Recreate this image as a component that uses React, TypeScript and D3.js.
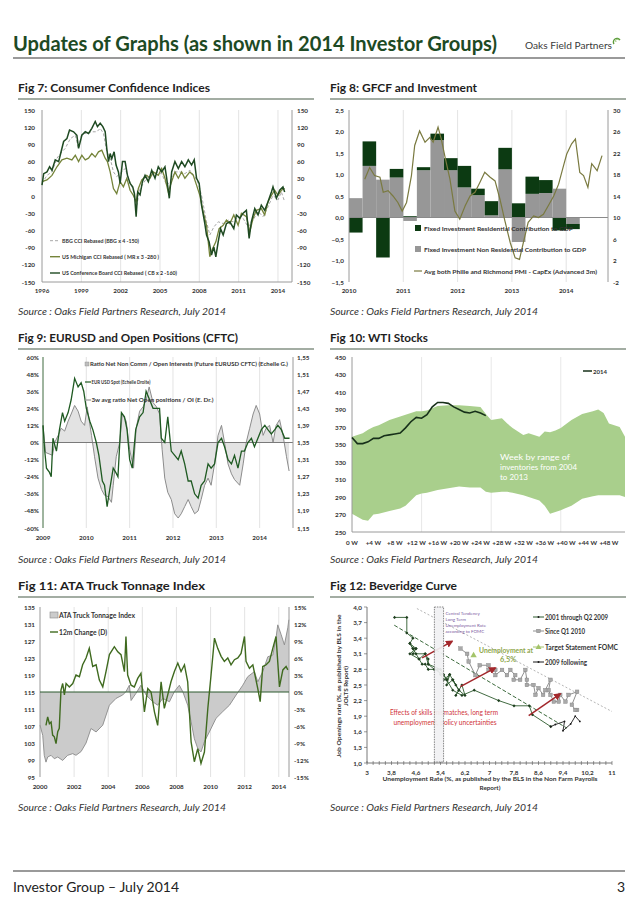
import React from "react";
import * as d3 from "d3";

const FONT = "Lato, 'Noto Sans', sans-serif";
const comma = (s: string) => s.replace(".", ",");

// ---------------- Fig 7 data ----------------
const fig7Years = [1996, 1999, 2002, 2005, 2008, 2011, 2014];
const fig7Ticks = [-150, -120, -90, -60, -30, 0, 30, 60, 90, 120, 150];
const fig7CB: [number, number][] = [
  [1996.0, 19], [1996.13, 39], [1996.38, 42], [1996.58, 51], [1996.76, 45], [1997.01, 63], [1997.27, 60], [1997.39, 71],
  [1997.65, 95], [1997.9, 100], [1998.1, 115], [1998.41, 112], [1998.66, 106], [1998.79, 83], [1999.04, 106], [1999.3, 112],
  [1999.55, 109], [1999.8, 118], [2000.06, 130], [2000.23, 121], [2000.44, 127], [2000.64, 121], [2000.82, 112], [2000.94, 83],
  [2001.07, 60], [2001.2, 74], [2001.32, 65], [2001.5, 77], [2001.65, 54], [2001.83, 42], [2001.96, 22], [2002.14, 60],
  [2002.34, 60], [2002.52, 36], [2002.72, 22], [2002.92, 16], [2003.05, 4], [2003.18, -36], [2003.3, 7], [2003.48, 2],
  [2003.66, 25], [2003.86, 36], [2004.11, 25], [2004.37, 45], [2004.62, 31], [2004.87, 51], [2005.13, 42], [2005.38, 51],
  [2005.51, 31], [2005.71, -4], [2005.89, 42], [2006.14, 60], [2006.4, 48], [2006.65, 60], [2006.9, 51], [2007.16, 63],
  [2007.41, 54], [2007.61, 63], [2007.79, 31], [2007.99, 22], [2008.17, -16], [2008.42, -48], [2008.55, -68], [2008.75, -80],
  [2008.93, -103], [2009.11, -89], [2009.26, -106], [2009.44, -80], [2009.62, -57], [2009.82, -68], [2010.07, -48], [2010.33, -45],
  [2010.63, -57], [2010.83, -33], [2011.09, -39], [2011.34, -30], [2011.59, -25], [2011.8, -74], [2011.97, -45], [2012.23, -22],
  [2012.48, -33], [2012.73, -16], [2012.99, -25], [2013.24, -10], [2013.5, 7], [2013.62, 16], [2013.88, -4], [2014.13, 10],
  [2014.38, 16], [2014.51, 7],
];
const fig7MR: [number, number][] = [
  [1996.0, 25], [1996.38, 28], [1996.76, 36], [1997.14, 51], [1997.52, 63], [1997.9, 66], [1998.28, 63], [1998.54, 71],
  [1998.79, 60], [1999.04, 71], [1999.3, 63], [1999.55, 66], [1999.8, 74], [2000.06, 68], [2000.31, 77], [2000.56, 80],
  [2000.82, 66], [2000.99, 60], [2001.2, 42], [2001.45, 13], [2001.7, 4], [2001.96, 25], [2002.21, 16], [2002.47, 31],
  [2002.72, 10], [2002.97, 1], [2003.18, -10], [2003.35, 13], [2003.61, 28], [2003.99, 36], [2004.24, 31], [2004.49, 42],
  [2004.87, 36], [2005.13, 48], [2005.38, 31], [2005.63, 7], [2005.89, 25], [2006.14, 42], [2006.4, 31], [2006.65, 42],
  [2006.9, 31], [2007.28, 42], [2007.54, 36], [2007.79, 19], [2008.04, 1], [2008.3, -28], [2008.55, -51], [2008.8, -106],
  [2009.01, -92], [2009.26, -80], [2009.51, -57], [2009.82, -51], [2010.07, -42], [2010.33, -48], [2010.63, -33], [2010.96, -51],
  [2011.21, -30], [2011.59, -36], [2011.85, -62], [2012.1, -39], [2012.35, -25], [2012.73, -22], [2012.99, -33], [2013.24, -10],
  [2013.5, 1], [2013.75, 10], [2014.0, 1], [2014.26, 10], [2014.51, 13],
];
const fig7BBG: [number, number][] = [
  [1996.0, 22], [1996.38, 36], [1996.76, 42], [1997.14, 66], [1997.52, 77], [1997.77, 83], [1998.16, 100], [1998.54, 106],
  [1998.79, 83], [1999.04, 109], [1999.42, 109], [1999.8, 112], [2000.18, 112], [2000.44, 118], [2000.69, 109], [2000.94, 77],
  [2001.2, 66], [2001.45, 42], [2001.7, 34], [2002.09, 42], [2002.34, 48], [2002.59, 31], [2002.97, 10], [2003.23, -16],
  [2003.48, 13], [2003.73, 22], [2003.99, 31], [2004.37, 36], [2004.75, 42], [2005.13, 39], [2005.51, 19], [2005.76, 25],
  [2006.14, 42], [2006.52, 42], [2006.9, 39], [2007.28, 45], [2007.66, 34], [2007.92, 22], [2008.17, 1], [2008.55, -45],
  [2008.8, -68], [2009.11, -54], [2009.44, -45], [2009.82, -48], [2010.2, -42], [2010.58, -45], [2010.96, -36], [2011.34, -39],
  [2011.72, -54], [2012.1, -42], [2012.48, -27], [2012.86, -36], [2013.24, -19], [2013.62, 1], [2014.0, -7], [2014.26, 7],
  [2014.51, -10],
];
const fig7Legend = [
  "BBG CCI Rebased (BBG x 4 -150)",
  "US Michigan CCI Rebased ( MR x 3 -280 )",
  "US Conference Board CCI Rebased ( CB x 2 -160)",
];

// ---------------- Fig 8 data ----------------
const fig8Quarters = ["2010Q1", "2010Q2", "2010Q3", "2010Q4", "2011Q1", "2011Q2", "2011Q3", "2011Q4", "2012Q1", "2012Q2",
  "2012Q3", "2012Q4", "2013Q1", "2013Q2", "2013Q3", "2013Q4", "2014Q1"];
const fig8NonRes = [0.45, 1.2, 0.88, 0.93, -0.08, 1.1, 1.8, 1.1, 0.7, 0.52, 0.05, 1.12, -0.57, 0.55, 0.57, 0.67, -0.15];
const fig8Res = [-0.35, 0.57, -0.93, 0.2, 0.03, 0.07, 0.15, 0.28, 0.5, 0.15, 0.33, 0.5, 0.33, 0.4, 0.3, -0.3, -0.12];
const fig8PMI: [number, number][] = [
  [2010.29, 17.1], [2010.38, 19.3], [2010.47, 17.8], [2010.57, 17.5], [2010.63, 14.7], [2010.72, 15], [2010.81, 14], [2010.9, 12.8],
  [2010.98, 11.2], [2011.06, 12.8], [2011.15, 17.8], [2011.21, 23.4], [2011.3, 26.1], [2011.4, 24], [2011.49, 24.9], [2011.55, 24],
  [2011.64, 26.8], [2011.7, 24.6], [2011.77, 21.2], [2011.86, 17.1], [2011.95, 11.2], [2012.04, 9.7], [2012.14, 12.2], [2012.23, 14],
  [2012.32, 14.7], [2012.41, 16.5], [2012.5, 18.4], [2012.6, 17.5], [2012.69, 16.8], [2012.78, 13.4], [2012.87, 9.4], [2012.97, 5.3],
  [2013.06, 2.5], [2013.14, 2.2], [2013.21, 5.3], [2013.3, 9.1], [2013.4, 10.3], [2013.49, 10], [2013.58, 10.6], [2013.67, 12.2],
  [2013.77, 14], [2013.86, 16.2], [2013.95, 19.6], [2014.01, 21.8], [2014.1, 23.7], [2014.17, 24.6], [2014.25, 18.4], [2014.32, 17.8],
  [2014.4, 15.6], [2014.47, 20], [2014.57, 18.7], [2014.66, 21.5],
];
const fig8Years = [2010, 2011, 2012, 2013, 2014];
const fig8LeftTicks = [-1.5, -1, -0.5, 0, 0.5, 1, 1.5, 2, 2.5];
const fig8RightTicks = [-2, 2, 6, 10, 14, 18, 22, 26, 30];
const fig8Legend = [
  "Fixed Investment  Residential Contribution to GDP",
  "Fixed Investment Non Residential Contribution to GDP",
  "Avg both Philie and Richmond PMI - CapEx (Advanced 3m)",
];

// ---------------- Fig 9 data ----------------
const fig9Ratio: [number, number][] = [
  [2009.0, 12], [2009.06, -7], [2009.14, -8], [2009.22, -9], [2009.27, 0], [2009.35, 5], [2009.42, 10], [2009.5, 8],
  [2009.58, 15], [2009.65, 20], [2009.73, 26], [2009.81, 22], [2009.88, 15], [2009.96, 12], [2010.02, 25], [2010.12, 5],
  [2010.19, -10], [2010.27, -25], [2010.35, -33], [2010.42, -37], [2010.5, -38], [2010.58, -42], [2010.62, -30], [2010.69, -10],
  [2010.77, 0], [2010.83, 20], [2010.92, 15], [2011.0, -5], [2011.09, -18], [2011.15, 10], [2011.23, 22], [2011.31, 25],
  [2011.38, 30], [2011.45, 39], [2011.54, 28], [2011.62, 25], [2011.69, 20], [2011.75, -5], [2011.81, -25], [2011.88, -35],
  [2011.96, -40], [2012.04, -50], [2012.12, -53], [2012.19, -50], [2012.27, -45], [2012.35, -40], [2012.42, -45], [2012.5, -50],
  [2012.58, -48], [2012.65, -40], [2012.73, -30], [2012.81, -25], [2012.88, -30], [2012.96, -15], [2013.04, 5], [2013.12, 12],
  [2013.19, 0], [2013.27, -15], [2013.35, -22], [2013.42, -26], [2013.54, -30], [2013.62, -15], [2013.69, 0], [2013.77, 10],
  [2013.85, 20], [2013.92, 26], [2014.0, 20], [2014.08, 5], [2014.15, 10], [2014.23, 12], [2014.31, 0], [2014.38, 12],
  [2014.46, 16], [2014.54, 5], [2014.62, -10], [2014.68, -20],
];
const fig9Spot: [number, number][] = [
  [2009.0, 1.39], [2009.04, 1.33], [2009.08, 1.29], [2009.15, 1.28], [2009.19, 1.27], [2009.23, 1.36], [2009.31, 1.33], [2009.38, 1.38],
  [2009.45, 1.42], [2009.5, 1.40], [2009.58, 1.42], [2009.65, 1.45], [2009.73, 1.50], [2009.81, 1.48], [2009.88, 1.49], [2009.94, 1.47],
  [2010.0, 1.43], [2010.08, 1.40], [2010.15, 1.38], [2010.23, 1.35], [2010.29, 1.32], [2010.37, 1.26], [2010.42, 1.25], [2010.48, 1.20],
  [2010.54, 1.24], [2010.62, 1.29], [2010.68, 1.28], [2010.73, 1.27], [2010.81, 1.42], [2010.88, 1.41], [2010.94, 1.38], [2011.0, 1.31],
  [2011.06, 1.29], [2011.14, 1.38], [2011.23, 1.41], [2011.31, 1.42], [2011.38, 1.47], [2011.46, 1.45], [2011.54, 1.43], [2011.62, 1.43],
  [2011.69, 1.43], [2011.73, 1.36], [2011.81, 1.35], [2011.88, 1.41], [2011.96, 1.33], [2012.04, 1.32], [2012.12, 1.31], [2012.19, 1.33],
  [2012.27, 1.30], [2012.35, 1.26], [2012.42, 1.26], [2012.5, 1.23], [2012.58, 1.22], [2012.65, 1.25], [2012.73, 1.26], [2012.81, 1.30],
  [2012.88, 1.29], [2012.96, 1.30], [2013.04, 1.35], [2013.12, 1.36], [2013.19, 1.34], [2013.27, 1.31], [2013.35, 1.30], [2013.42, 1.32],
  [2013.5, 1.29], [2013.58, 1.33], [2013.65, 1.33], [2013.73, 1.35], [2013.81, 1.36], [2013.88, 1.34], [2013.96, 1.36], [2014.04, 1.38],
  [2014.12, 1.39], [2014.19, 1.38], [2014.27, 1.37], [2014.35, 1.38], [2014.42, 1.39], [2014.5, 1.38], [2014.58, 1.36], [2014.69, 1.36],
];
const fig9Years = [2009, 2010, 2011, 2012, 2013, 2014];
const fig9LeftTicks = [-60, -48, -36, -24, -12, 0, 12, 24, 36, 48, 60];
const fig9RightTicks = [1.15, 1.19, 1.23, 1.27, 1.31, 1.35, 1.39, 1.43, 1.47, 1.51, 1.55];
const fig9Legend = [
  "Ratio Net Non Comm / Open Interests (Future EURUSD CFTC) (Echelle G.)",
  "EUR USD Spot (Echelle Droite)",
  "3w avg ratio Net Open positions / OI (E. Dr.)",
];

// ---------------- Fig 10 data ----------------
const fig10Weeks = [0, 2, 3, 4, 5, 7, 9, 10, 12, 13, 14, 16, 18, 20, 22, 24, 25, 26, 28, 29, 30, 32, 33, 35, 36, 37, 38, 39, 41, 43, 45, 46, 47, 48, 50, 51];
const fig10Upper = [359, 363, 367, 370, 372, 378, 382, 384, 388, 388, 389, 394, 395, 395, 394, 393, 385, 378, 380, 374, 369, 361, 363, 359, 365, 364, 366, 369, 378, 385, 388, 390, 386, 374, 370, 359];
const fig10Lower = [271, 264, 263, 270, 271, 274, 277, 280, 292, 294, 295, 298, 300, 302, 301, 301, 296, 295, 296, 296, 295, 292, 290, 286, 280, 271, 273, 275, 280, 288, 291, 292, 292, 292, 292, 290];
const fig10Stocks2014 = [358, 351, 351, 353, 357, 357, 360, 361, 362, 363, 369, 376, 381, 380, 384, 393, 398, 398, 397, 393, 390, 387, 386, 388, 386, 383];
const fig10Ticks = [250, 270, 290, 310, 330, 350, 370, 390, 410, 430, 450];
const fig10WeekTicks = [0, 4, 8, 12, 16, 20, 24, 28, 32, 36, 40, 44, 48];
const fig10QuarterLines = [13, 26, 39];
const fig10Note = ["Week by range of", "inventories from 2004", "to 2013"];

// ---------------- Fig 11 data ----------------
const fig11Index: [number, number][] = [
  [2000.0, 107.2], [2000.16, 104.8], [2000.25, 100.1], [2000.35, 98.5], [2000.45, 99.7], [2000.65, 100.1], [2000.84, 99.3], [2001.04, 99.7],
  [2001.33, 98.9], [2001.62, 100.1], [2001.92, 100.5], [2002.11, 100.1], [2002.41, 101.0], [2002.7, 103], [2002.99, 106.4], [2003.29, 105.6],
  [2003.68, 107.2], [2004.07, 111.9], [2004.46, 113.5], [2004.85, 114.3], [2005.04, 115.1], [2005.24, 116.6], [2005.34, 113], [2005.63, 114.7],
  [2005.92, 116.6], [2006.22, 114.3], [2006.61, 112.7], [2006.9, 111.9], [2007.2, 113.5], [2007.59, 112.7], [2007.88, 115.1], [2008.17, 116.6],
  [2008.37, 115.1], [2008.66, 111.9], [2008.86, 108], [2009.05, 104], [2009.25, 101.7], [2009.44, 100.9], [2009.64, 103.3], [2009.93, 105.6],
  [2010.32, 108.8], [2010.72, 110.4], [2011.11, 111.9], [2011.5, 114.3], [2011.89, 116.6], [2012.18, 118.6], [2012.57, 119.8], [2012.77, 117.4],
  [2013.06, 119.8], [2013.36, 123.3], [2013.65, 123.7], [2013.84, 127.7], [2013.94, 130.8], [2014.14, 128.5], [2014.33, 126.1], [2014.53, 130.1],
  [2014.59, 132],
];
const fig11Change: [number, number][] = [
  [2000.35, -5.9], [2000.45, -4.4], [2000.55, -5.6], [2000.65, -5.3], [2000.74, -7.6], [2000.84, -7.9], [2000.94, -9.1], [2001.04, -7],
  [2001.13, -6.4], [2001.23, 0.35], [2001.33, 1.5], [2001.43, -0.5], [2001.53, 1.5], [2001.72, 0.9], [2001.92, 1.5], [2002.11, 3],
  [2002.31, 2.7], [2002.5, 4.8], [2002.7, 6], [2002.89, 7.7], [2003.09, 4.5], [2003.29, 4.8], [2003.48, 2.1], [2003.68, 0.9],
  [2003.87, 3.6], [2004.07, 6.6], [2004.36, 8], [2004.56, 7.1], [2004.75, 6.6], [2004.95, 3.6], [2005.04, 9.8], [2005.14, 3],
  [2005.34, 1.2], [2005.53, 0.9], [2005.73, 2.4], [2005.92, 3.3], [2006.12, -3.5], [2006.32, 0.6], [2006.51, 0], [2006.71, -3.5],
  [2006.9, -5.9], [2007.1, 1.8], [2007.29, -2.9], [2007.49, -0.5], [2007.68, 1.8], [2007.88, 3.6], [2008.08, 5.1], [2008.27, 3.6],
  [2008.47, 4.8], [2008.66, 1.8], [2008.86, -8.8], [2009.05, -12.3], [2009.25, -10], [2009.44, -12.6], [2009.64, -10.6], [2009.84, -2.9],
  [2010.03, 3], [2010.23, 9.5], [2010.42, 7.7], [2010.62, 6.3], [2010.81, 5.4], [2011.01, 6], [2011.2, 4.8], [2011.4, 5.7],
  [2011.6, 6], [2011.79, 6.8], [2011.99, 9.8], [2012.08, 5.4], [2012.28, 4.2], [2012.48, 4.8], [2012.77, 0.6], [2012.91, -1.7],
  [2013.06, 4.5], [2013.26, 4.8], [2013.45, 5.4], [2013.65, 7.7], [2013.84, 9.8], [2014.04, 0.9], [2014.24, 3.9], [2014.43, 4.5],
  [2014.53, 3.9],
];
const fig11Years = [2000, 2002, 2004, 2006, 2008, 2010, 2012, 2014];
const fig11LeftTicks = [95, 99, 103, 107, 111, 115, 119, 123, 127, 131, 135];
const fig11RightTicks = [-15, -12, -9, -6, -3, 0, 3, 6, 9, 12, 15];
const fig11Legend = ["ATA Truck Tonnage Index", "12m Change (D)"];

// ---------------- Fig 12 data ----------------
const fig12Early: [number, number][] = [
  [3.9, 3.8], [4.3, 3.8], [4.3, 3.5], [4.5, 3.4], [4.4, 3.3], [4.6, 3.2], [4.5, 3.1], [4.9, 3.1], [5.0, 2.9], [5.4, 2.8],
  [5.6, 2.6], [5.7, 2.7], [5.9, 2.5], [5.8, 2.6], [6.0, 2.4], [5.9, 2.3], [6.1, 2.5], [6.2, 2.3], [6.0, 2.4], [5.8, 2.6],
  [5.6, 2.5], [5.7, 2.7], [5.5, 2.6], [5.4, 2.7], [5.3, 2.8], [5.2, 2.8], [5.0, 2.9], [5.0, 3.0], [4.9, 3.1], [4.7, 3.0],
  [4.6, 3.1], [4.5, 3.2], [4.4, 3.3], [4.5, 3.2], [4.6, 3.2], [4.4, 3.1], [4.7, 3.0], [4.8, 2.9], [4.9, 2.9], [5.0, 2.8],
  [5.2, 2.8], [5.5, 2.7], [5.6, 2.6], [5.8, 2.4], [6.1, 2.3], [6.5, 2.4], [7.3, 2.2], [7.8, 2.1], [8.3, 2.1], [8.4, 1.93],
  [9.0, 1.7],
];
const fig12Since2010: [number, number][] = [
  [9.86, 2.02], [9.8, 2.02], [9.69, 2.12], [9.86, 2.37], [9.58, 2.31], [9.48, 2.18], [9.31, 2.31], [9.26, 2.18], [9.1, 2.18],
  [8.99, 2.31], [8.93, 2.4], [8.99, 2.6], [8.82, 2.4], [8.75, 2.31], [8.6, 2.44], [8.5, 2.31], [8.44, 2.5], [8.22, 2.5],
  [8.22, 2.6], [8.17, 2.79], [8.0, 2.6], [7.79, 2.6], [7.84, 2.69], [7.68, 2.79], [7.57, 2.69], [7.41, 2.79], [7.19, 2.69],
  [7.19, 2.79], [6.97, 2.79], [6.97, 2.88], [6.68, 2.88], [6.54, 2.69], [6.32, 2.95], [6.27, 3.1], [6.05, 3.2],
];
const fig12Following: [number, number][] = [[9.0, 1.7], [9.15, 1.74], [9.45, 1.8], [9.4, 1.62], [9.65, 1.75], [9.8, 1.9], [9.95, 1.8]];
const fig12Target: [number, number] = [6.48, 3.07];
const fig12TrendGreen: [number, number][] = [[3.89, 3.65], [9.53, 1.67]];
const fig12TrendGray: [number, number][] = [[4.63, 3.97], [11, 1.99]];
const fig12Arrows: [number, number, number, number][] = [[4.8, 3.02, 5.78, 3.34], [6.05, 2.47, 7.19, 2.83], [8.28, 1.91, 9.31, 2.33]];
const fig12Band: [number, number] = [5.2, 5.5];
const fig12XTicks = [3, 3.8, 4.6, 5.4, 6.2, 7, 7.8, 8.6, 9.4, 10.2, 11];
const fig12YTicks = [1, 1.3, 1.6, 1.9, 2.2, 2.5, 2.8, 3.1, 3.4, 3.7, 4];
const fig12Legend = ["2001 through Q2 2009", "Since Q1 2010", "Target Statement FOMC", "2009 following"];
const fig12BandNote = ["Central Tendency", "Long Term", "Unemployment Rate", "according to FOMC"];

// ---------------- helpers ----------------
type TP = {
  x: number; y: number; children: React.ReactNode; size?: number; weight?: number; anchor?: string; fill?: string;
  len?: number; italic?: boolean; transform?: string;
};
const T = ({ x, y, children, size = 6.3, weight = 700, anchor = "start", fill = "#333", len, italic, transform }: TP) => (
  <text
    x={x} y={y} fontSize={size} fontWeight={weight} textAnchor={anchor as any} fill={fill} fontFamily={FONT}
    dominantBaseline="central" fontStyle={italic ? "italic" : "normal"} transform={transform}
    textLength={len} lengthAdjust={len ? "spacingAndGlyphs" : undefined}
  >{children}</text>
);

const Title = ({ x, y, lineW, text, tlen }: { x: number; y: number; lineW: number; text: string; tlen: number }) => (
  <g>
    <T x={x} y={y} size={11.5} weight={700} fill="#1e1e1e" len={tlen}>{text}</T>
    <line x1={x} x2={x + lineW} y1={y + 12} y2={y + 12} stroke="#849284" strokeWidth={1.6} />
  </g>
);

const Source = ({ x, y }: { x: number; y: number }) => (
  <T x={x} y={y} size={9.3} weight={400} italic fill="#333" len={208}>Source : Oaks Field Partners Research, July 2014</T>
);

const lineOf = (xs: any, ys: any) => d3.line<[number, number]>().x((d) => xs(d[0])).y((d) => ys(d[1]));

// ---------------- Fig 7 ----------------
const Fig7 = () => {
  const x = d3.scaleLinear().domain([1996, 2015.07]).range([42, 292]);
  const y = d3.scaleLinear().domain([-150, 150]).range([282, 110]);
  const ln = lineOf(x, y);
  return (
    <g>
      {fig7Years.slice(1).map((yr) => (
        <line key={yr} x1={x(yr)} x2={x(yr)} y1={110} y2={282} stroke="#dcdcdc" strokeWidth={0.8} />
      ))}
      <line x1={42} x2={42} y1={110} y2={282} stroke="#9a9a9a" />
      <line x1={292} x2={292} y1={110} y2={282} stroke="#9a9a9a" />
      <line x1={42} x2={292} y1={282} y2={282} stroke="#9a9a9a" />
      {fig7Ticks.map((t) => (
        <g key={t}>
          <T x={35} y={y(t)} anchor="end">{t}</T>
          <T x={297} y={y(t)}>{t}</T>
        </g>
      ))}
      {fig7Years.map((yr) => <T key={yr} x={x(yr)} y={290} anchor="middle">{yr}</T>)}
      <path d={ln(fig7BBG) || ""} fill="none" stroke="#a8a8a8" strokeWidth={1} strokeDasharray="3,2" />
      <path d={ln(fig7MR) || ""} fill="none" stroke="#75843a" strokeWidth={1.3} />
      <path d={ln(fig7CB) || ""} fill="none" stroke="#1f4a22" strokeWidth={1.5} />
      {[240.7, 256.7, 273].map((ly, i) => (
        <g key={i}>
          <line x1={50} x2={60} y1={ly} y2={ly}
            stroke={["#a8a8a8", "#75843a", "#1f4a22"][i]} strokeWidth={i === 0 ? 1 : 1.4} strokeDasharray={i === 0 ? "3,2" : undefined} />
          <T x={62} y={ly} size={5.2} len={[77, 97, 115][i]}>{fig7Legend[i]}</T>
        </g>
      ))}
    </g>
  );
};

// ---------------- Fig 8 ----------------
const Fig8 = () => {
  const x = d3.scaleLinear().domain([2010, 2014.77]).range([349, 608]);
  const yL = d3.scaleLinear().domain([-1.5, 2.5]).range([282, 110]);
  const yR = d3.scaleLinear().domain([-2, 30]).range([282, 110]);
  const qStart = (q: string) => +q.slice(0, 4) + (+q.slice(5) - 1) / 4;
  const ln = lineOf(x, yR);
  return (
    <g>
      {fig8Years.slice(1).map((yr) => (
        <line key={yr} x1={x(yr)} x2={x(yr)} y1={110} y2={282} stroke="#dcdcdc" strokeWidth={0.8} />
      ))}
      {fig8Quarters.map((q, i) => {
        const x0 = x(qStart(q)), x1 = x(qStart(q) + 0.25);
        const v = fig8NonRes[i], r = fig8Res[i];
        const base = (r >= 0) === (v >= 0) ? v : 0;
        return (
          <g key={q}>
            <rect x={x0} width={x1 - x0} y={Math.min(yL(0), yL(v))} height={Math.abs(yL(v) - yL(0))} fill="#979797" />
            <rect x={x0} width={x1 - x0} y={Math.min(yL(base), yL(base + r))} height={Math.abs(yL(base + r) - yL(base))} fill="#0c3a12" />
          </g>
        );
      })}
      <line x1={349} x2={608} y1={yL(0)} y2={yL(0)} stroke="#8a8a8a" strokeWidth={1} />
      <line x1={349} x2={349} y1={110} y2={282} stroke="#9a9a9a" />
      <line x1={608} x2={608} y1={110} y2={282} stroke="#9a9a9a" />
      <path d={ln(fig8PMI) || ""} fill="none" stroke="#7a7a40" strokeWidth={1.2} />
      {fig8LeftTicks.map((t) => <T key={t} x={344} y={yL(t)} anchor="end">{comma(d3.format(".1f")(t))}</T>)}
      {fig8RightTicks.map((t) => <T key={t} x={613} y={yR(t)}>{t}</T>)}
      {fig8Years.map((yr) => <T key={yr} x={x(yr)} y={290} anchor="middle">{yr}</T>)}
      {[228, 249, 271].map((ly, i) => (
        <g key={i}>
          {i < 2 ? <rect x={415} y={ly - 3} width={6} height={6} fill={i === 0 ? "#0c3a12" : "#979797"} />
            : <line x1={414} x2={422} y1={ly} y2={ly} stroke="#7a7a40" strokeWidth={1.2} />}
          <T x={424} y={ly} size={6.2} len={[149, 162, 173][i]}>{fig8Legend[i]}</T>
        </g>
      ))}
    </g>
  );
};

// ---------------- Fig 9 ----------------
const Fig9 = () => {
  const x = d3.scaleLinear().domain([2009, 2014.77]).range([43, 293]);
  const yL = d3.scaleLinear().domain([-60, 60]).range([528, 357]);
  const yR = d3.scaleLinear().domain([1.15, 1.55]).range([528, 357]);
  const area = d3.area<[number, number]>().x((d) => x(d[0])).y0(yL(0)).y1((d) => yL(d[1]));
  const ratioLine = lineOf(x, yL);
  const spot = lineOf(x, yR);
  return (
    <g>
      {fig9Years.slice(1).map((yr) => (
        <line key={yr} x1={x(yr)} x2={x(yr)} y1={357} y2={528} stroke="#dcdcdc" strokeWidth={0.8} />
      ))}
      <path d={area(fig9Ratio) || ""} fill="#e3e3e3" />
      <path d={ratioLine(fig9Ratio) || ""} fill="none" stroke="#8c8c8c" strokeWidth={1} />
      <line x1={43} x2={293} y1={yL(0)} y2={yL(0)} stroke="#7a7a7a" strokeWidth={1} />
      <line x1={43} x2={43} y1={357} y2={528} stroke="#3f6b3f" />
      <line x1={293} x2={293} y1={357} y2={528} stroke="#9a9a9a" />
      <path d={spot(fig9Spot) || ""} fill="none" stroke="#1f5a22" strokeWidth={1.3} />
      {fig9LeftTicks.map((t) => <T key={t} x={39} y={yL(t)} anchor="end">{t + "%"}</T>)}
      {fig9RightTicks.map((t) => <T key={t} x={297} y={yR(t)}>{comma(d3.format(".2f")(t))}</T>)}
      {fig9Years.map((yr) => <T key={yr} x={x(yr)} y={537} anchor="middle">{yr}</T>)}
      {[364, 382, 400].map((ly, i) => (
        <g key={i}>
          {i === 0 ? <rect x={85} y={ly - 2} width={4} height={4} fill="#bdbdbd" stroke="#8c8c8c" strokeWidth={0.4} />
            : <line x1={85} x2={91} y1={ly} y2={ly} stroke={i === 1 ? "#1f5a22" : "#9a9a9a"} strokeWidth={1.2} />}
          <T x={i === 0 ? 90 : 91.5} y={ly} size={5.3} len={[198, 59, 122][i]}>{fig9Legend[i]}</T>
        </g>
      ))}
    </g>
  );
};

// ---------------- Fig 10 ----------------
const Fig10 = () => {
  const x = d3.scaleLinear().domain([0, 51]).range([352, 625]);
  const y = d3.scaleLinear().domain([250, 450]).range([532, 357]);
  const band = d3.area<number>().x((w) => x(w)).y0((_, i) => y(fig10Lower[i])).y1((_, i) => y(fig10Upper[i]));
  const l2014 = d3.line<number>().x((_, i) => x(i)).y((v) => y(v));
  return (
    <g>
      {fig10QuarterLines.map((w) => (
        <line key={w} x1={x(w)} x2={x(w)} y1={357} y2={532} stroke="#e2e2e2" strokeWidth={0.8} />
      ))}
      <path d={band(fig10Weeks) || ""} fill="#a9cf8c" />
      <line x1={352} x2={352} y1={357} y2={532} stroke="#9a9a9a" />
      <line x1={352} x2={625} y1={532} y2={532} stroke="#9a9a9a" />
      <path d={l2014(fig10Stocks2014) || ""} fill="none" stroke="#17301a" strokeWidth={1.6} />
      {fig10Ticks.map((t) => <T key={t} x={346} y={y(t)} anchor="end">{t}</T>)}
      {fig10WeekTicks.map((w) => <T key={w} x={x(w)} y={542} anchor="middle">{w === 0 ? "0 W" : `+${w} W`}</T>)}
      <line x1={583} x2={592} y1={371} y2={371} stroke="#17301a" strokeWidth={1.5} />
      <T x={593} y={371} size={6}>2014</T>
      {fig10Note.map((s, i) => (
        <T key={i} x={500} y={457 + i * 10} size={7.8} weight={400} fill="#ffffff" len={[70, 77, 28][i]}>{s}</T>
      ))}
    </g>
  );
};

// ---------------- Fig 11 ----------------
const Fig11 = () => {
  const x = d3.scaleLinear().domain([2000, 2014.6]).range([40, 289]);
  const yL = d3.scaleLinear().domain([95, 135]).range([777, 607]);
  const yR = d3.scaleLinear().domain([-15, 15]).range([777, 607]);
  const area = d3.area<[number, number]>().x((d) => x(d[0])).y0(yL(115)).y1((d) => yL(d[1]));
  const idx = lineOf(x, yL);
  const chg = lineOf(x, yR);
  return (
    <g>
      {fig11Years.slice(1).map((yr) => (
        <line key={yr} x1={x(yr)} x2={x(yr)} y1={607} y2={777} stroke="#dcdcdc" strokeWidth={0.8} />
      ))}
      <path d={area(fig11Index) || ""} fill="#cbcbcb" />
      <path d={idx(fig11Index) || ""} fill="none" stroke="#8a8a8a" strokeWidth={0.9} />
      <line x1={40} x2={40} y1={607} y2={777} stroke="#9a9a9a" />
      <line x1={289} x2={289} y1={607} y2={777} stroke="#9a9a9a" />
      <line x1={40} x2={289} y1={yL(115)} y2={yL(115)} stroke="#2c5a2e" strokeWidth={1.2} />
      <path d={chg(fig11Change) || ""} fill="none" stroke="#3f6a1f" strokeWidth={1.4} />
      {fig11LeftTicks.map((t) => <T key={t} x={35} y={yL(t)} anchor="end">{t}</T>)}
      {fig11RightTicks.map((t) => <T key={t} x={294} y={yR(t)}>{t + "%"}</T>)}
      {fig11Years.map((yr) => <T key={yr} x={x(yr)} y={786} anchor="middle">{yr}</T>)}
      <rect x={50} y={612} width={8} height={6} fill="#cbcbcb" stroke="#8a8a8a" strokeWidth={0.6} />
      <T x={59} y={615} size={6.6} len={76}>{fig11Legend[0]}</T>
      <line x1={50} x2={58} y1={632} y2={632} stroke="#3f6a1f" strokeWidth={1.4} />
      <T x={59} y={632} size={6.6} len={48}>{fig11Legend[1]}</T>
    </g>
  );
};

// ---------------- Fig 12 ----------------
const Fig12 = () => {
  const x = d3.scaleLinear().domain([3, 11]).range([367, 612]);
  const y = d3.scaleLinear().domain([1, 4]).range([763, 607]);
  const ln = lineOf(x, y);
  const minor = d3.range(3, 11.001, 0.2);
  const fmt = (v: number) => (Number.isInteger(v) ? String(v) : comma(d3.format(".1f")(v)));
  const lgY = [617, 631, 647, 662];
  return (
    <g>
      <defs>
        <marker id="arr" viewBox="0 0 10 10" refX="8" refY="5" markerWidth="5" markerHeight="5" orient="auto">
          <path d="M0,0 L10,5 L0,10 z" fill="#a3282c" />
        </marker>
      </defs>
      <line x1={367} x2={367} y1={607} y2={763} stroke="#555" strokeWidth={0.8} />
      <line x1={367} x2={612} y1={763} y2={763} stroke="#555" strokeWidth={0.8} />
      {minor.map((m, i) => <line key={i} x1={x(m)} x2={x(m)} y1={761} y2={765} stroke="#555" strokeWidth={0.6} />)}
      {fig12YTicks.map((t) => (
        <g key={t}>
          <line x1={364} x2={367} y1={y(t)} y2={y(t)} stroke="#555" strokeWidth={0.6} />
          <T x={362} y={y(t)} anchor="end">{comma(d3.format(".1f")(t))}</T>
        </g>
      ))}
      {fig12XTicks.map((t) => <T key={t} x={x(t)} y={772} anchor="middle">{fmt(t)}</T>)}
      <T x={490} y={778.5} anchor="middle" size={6.3} len={215}>Unemployment Rate (%, as published by the BLS in the Non Farm Payrolls</T>
      <T x={490} y={787} anchor="middle" size={6.3}>Report)</T>
      <T x={0} y={0} anchor="middle" size={6.3} len={143} transform="translate(338,686) rotate(-90)">Job Openings rate (%, as published by BLS in the</T>
      <T x={0} y={0} anchor="middle" size={6.3} transform="translate(345.5,686) rotate(-90)">JOLTS Report)</T>

      <path d={ln(fig12TrendGray) || ""} stroke="#b5b5b5" strokeWidth={1} strokeDasharray="2,2" fill="none" />
      <path d={ln(fig12TrendGreen) || ""} stroke="#3c6a3c" strokeWidth={1} strokeDasharray="4,2" fill="none" />

      <path d={ln(fig12Since2010) || ""} stroke="#8f8f8f" strokeWidth={1} fill="none" />
      {fig12Since2010.map((d, i) => (
        <rect key={i} x={x(d[0]) - 1.8} y={y(d[1]) - 1.8} width={3.6} height={3.6} fill="#a9a9a9" stroke="#7f7f7f" strokeWidth={0.4} />
      ))}
      <path d={ln(fig12Early) || ""} stroke="#2d5a2d" strokeWidth={0.9} fill="none" />
      {fig12Early.map((d, i) => (
        <path key={i} d={`M${x(d[0])},${y(d[1]) - 1.6}l1.6,1.6l-1.6,1.6l-1.6,-1.6z`} fill="#1f3f1f" />
      ))}
      <path d={ln(fig12Following) || ""} stroke="#1a1a1a" strokeWidth={0.9} fill="none" />
      {fig12Following.map((d, i) => <circle key={i} cx={x(d[0])} cy={y(d[1])} r={0.9} fill="#1a1a1a" />)}
      <path d={`M${x(fig12Target[0])},${y(fig12Target[1]) - 3.5}l3.2,5.5h-6.4z`} fill="#a4c46a" />

      {fig12Arrows.map((a, i) => (
        <line key={i} x1={x(a[0])} y1={y(a[1])} x2={x(a[2])} y2={y(a[3])} stroke="#a3282c" strokeWidth={1.5} markerEnd="url(#arr)" />
      ))}
      <T x={444} y={712} anchor="middle" size={7.6} weight={400} fill="#d0353a" len={108}>Effects of skills mismatches, long term</T>
      <T x={445} y={722} anchor="middle" size={7.6} weight={400} fill="#d0353a" len={103}>unemployment, policy uncertainties</T>

      <rect x={x(fig12Band[0])} y={607} width={x(fig12Band[1]) - x(fig12Band[0])} height={155}
        fill="#f1f1f3" fillOpacity={0.92} stroke="#555" strokeWidth={0.7} strokeDasharray="1.5,1" />
      {fig12BandNote.map((s, i) => (
        <T key={i} x={445.5} y={613 + i * 6.3} size={4.5} weight={400} fill="#7a5aa0">{s}</T>
      ))}
      <T x={479} y={650} size={7.3} fill="#8ea64a" len={54}>Unemployment at</T>
      <T x={500} y={659.5} size={7.3} fill="#8ea64a">6,5%</T>

      {fig12Legend.map((s, i) => (
        <g key={i}>
          <line x1={533} x2={544} y1={lgY[i]} y2={lgY[i]} stroke={["#2d5a2d", "#8f8f8f", "#a4c46a", "#1a1a1a"][i]} strokeWidth={1} />
          {i === 1 ? <rect x={536.7} y={lgY[i] - 1.8} width={3.6} height={3.6} fill="#a9a9a9" stroke="#7f7f7f" strokeWidth={0.4} /> : null}
          {i === 2 ? <path d={`M538.5,${lgY[i] - 3}l3,5h-6z`} fill="#a4c46a" /> : null}
          {i === 0 || i === 3 ? <circle cx={538.5} cy={lgY[i]} r={1} fill="#1a1a1a" /> : null}
          <T x={545} y={lgY[i]} size={7.6} fill="#333" len={[63, 40, 73, 42][i]}>{s}</T>
        </g>
      ))}
    </g>
  );
};

export default function App() {
  return (
    <svg width={638} height={903} viewBox="0 0 638 903" style={{ position: "absolute", left: 0, top: 0, background: "#fff" }}
      xmlns="http://www.w3.org/2000/svg">
      <rect x={0} y={0} width={638} height={903} fill="#ffffff" />
      {/* header */}
      <T x={13} y={42} size={21} weight={700} fill="#1d4a24" len={484}>Updates of Graphs (as shown in 2014 Investor Groups)</T>
      <T x={525} y={45} size={10} weight={400} fill="#3a3a3a" len={87}>Oaks Field Partners</T>
      <path d="M614,44 a3.5,3.5 0 1,1 6,-4" fill="none" stroke="#5b9b3b" strokeWidth={1.4} />
      <path d="M616,42 a1.8,1.8 0 1,1 3,-2" fill="none" stroke="#8cc06a" strokeWidth={1} />
      <line x1={13} x2={625} y1={58} y2={58} stroke="#9a9a9a" strokeWidth={2} />

      <Title x={18} y={87} lineW={296} text="Fig 7: Consumer Confidence Indices" tlen={192} />
      <Title x={330} y={87} lineW={296} text="Fig 8: GFCF and Investment" tlen={147} />
      <Fig7 />
      <Fig8 />
      <Source x={18} y={311} />
      <Source x={330} y={311} />

      <Title x={18} y={337} lineW={296} text="Fig 9: EURUSD and Open Positions (CFTC)" tlen={220} />
      <Title x={330} y={337} lineW={296} text="Fig 10: WTI Stocks" tlen={98} />
      <Fig9 />
      <Fig10 />
      <Source x={18} y={559} />
      <Source x={330} y={559} />

      <Title x={18} y={585} lineW={296} text="Fig 11: ATA Truck Tonnage Index" tlen={187} />
      <Title x={330} y={585} lineW={296} text="Fig 12: Beveridge Curve" tlen={127} />
      <Fig11 />
      <Fig12 />
      <Source x={18} y={807} />
      <Source x={330} y={807} />

      {/* footer */}
      <line x1={13} x2={625} y1={871} y2={871} stroke="#9a9a9a" strokeWidth={2} />
      <T x={13} y={886} size={14} weight={400} fill="#222" len={166}>Investor Group –  July 2014</T>
      <T x={625} y={886} size={14} weight={400} fill="#222" anchor="end">3</T>
    </svg>
  );
}
